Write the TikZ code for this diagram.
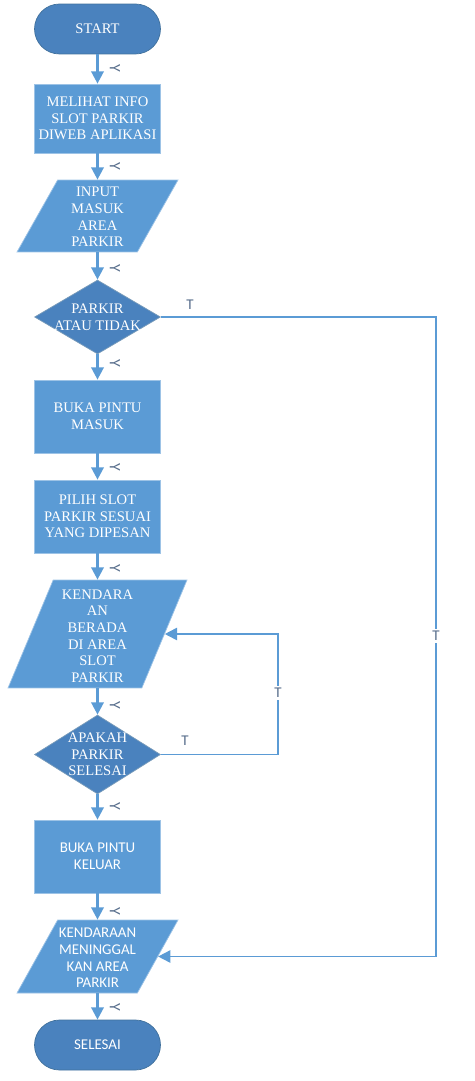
\documentclass[tikz,border=0pt]{standalone}
\usepackage{fontspec}
\setmainfont{Liberation Serif}
\newfontfamily\calibrifont{Carlito}
\usetikzlibrary{shapes.geometric,arrows.meta}

\definecolor{boxblue}{RGB}{91,155,213}
\definecolor{darkblue}{RGB}{74,130,190}
\definecolor{edgeblue}{RGB}{65,113,156}
\definecolor{lineblue}{RGB}{91,155,213}
\definecolor{labelgray}{RGB}{88,110,140}

\tikzset{
  terminal/.style={rectangle, rounded corners=0.5cm, draw=edgeblue, fill=darkblue,
    minimum width=2.52cm, minimum height=1cm, inner sep=0pt,
    text=white, font=\fontsize{8.3}{9.5}\selectfont},
  process/.style={rectangle, draw=boxblue!60!white, fill=boxblue,
    minimum width=2.52cm, minimum height=1.46cm, inner sep=0pt,
    text=white, align=center, font=\fontsize{8.3}{9.5}\selectfont},
  io/.style={trapezium, trapezium left angle=63, trapezium right angle=117,
    trapezium stretches=true, draw=boxblue!60!white, fill=boxblue, inner sep=2pt},
  decision/.style={diamond, draw=edgeblue!70!white, fill=darkblue, inner sep=0pt},
  txt/.style={text=white, align=center, inner sep=0pt, font=\fontsize{8.3}{9.5}\selectfont},
  sanstxt/.style={txt, font=\calibrifont\fontsize{8.5}{9.5}\selectfont},
  flow/.style={draw=lineblue, line width=1.4pt, -{Triangle[width=7pt,length=7pt]}},
  back/.style={flow, line width=1pt},
  ylabel/.style={text=labelgray, rotate=-90, inner sep=0pt,
    font=\calibrifont\fontsize{9}{10}\selectfont},
  tlabel/.style={text=labelgray, inner sep=1pt,
    font=\calibrifont\fontsize{8.5}{9}\selectfont},
}

\begin{document}
\begin{tikzpicture}[x=0.02cm, y=-0.02cm]
        \useasboundingbox (0,0) rectangle (474,1081);
        % Main column of steps
        \node (start) at (97.5,29) [terminal] {START};
        \node (info) at (97.5,118.5) [process, minimum height=1.38cm] {MELIHAT INFO\\SLOT PARKIR\\DIWEB APLIKASI};
        \node (input) at (97.5,216) [io, minimum width=3.22cm, minimum height=1.44cm] {};
        \node (input-t) at (97.5,217) [txt] {INPUT\\MASUK\\AREA\\PARKIR};
        \node (d1) at (97.5,317) [decision, minimum width=2.52cm, minimum height=1.48cm] {};
        \node (d1-t) at (d1) [txt] {PARKIR\\ATAU TIDAK};
        \node (bukamasuk) at (97.5,416.5) [process] {BUKA PINTU\\MASUK};
        \node (pilih) at (97.5,516.5) [process] {PILIH SLOT\\PARKIR SESUAI\\YANG DIPESAN};
        \node (kend) at (97.5,634) [io, minimum width=3.58cm, minimum height=2.16cm] {};
        \node (kend-t) at (97.5,636) [txt] {KENDARA\\AN\\BERADA\\DI AREA\\SLOT\\PARKIR};
        \node (d2) at (97.5,754.5) [decision, minimum width=2.52cm, minimum height=1.58cm] {};
        \node (d2-t) at (d2) [txt] {APAKAH\\PARKIR\\SELESAI};
        \node (bukakeluar) at (97.5,856.5) [process, font=\calibrifont\fontsize{8.5}{9.5}\selectfont] {BUKA PINTU\\KELUAR};
        \node (kmn) at (97.5,956.5) [io, minimum width=3.22cm, minimum height=1.46cm] {};
        \node (kmn-t) at (97.5,958) [sanstxt] {KENDARAAN\\MENINGGAL\\KAN AREA\\PARKIR};
        \node (selesai) at (97.5,1045) [terminal, font=\calibrifont\fontsize{8.5}{9.5}\selectfont] {SELESAI};

        % Straight connectors
        \draw[flow] (start) -- (info);
        \draw[flow] (info) -- (input);
        \draw[flow] (input) -- (d1);
        \draw[flow] (d1) -- (bukamasuk);
        \draw[flow] (bukamasuk) -- (pilih);
        \draw[flow] (pilih) -- (kend);
        \draw[flow] (kend) -- (d2);
        \draw[flow] (d2) -- (bukakeluar);
        \draw[flow] (bukakeluar) -- (kmn);
        \draw[flow] (kmn) -- (selesai);

        % Loops back for the T answers
        \coordinate (farright) at (436,636);
        \coordinate (nearright) at (278,693);
        \draw[back] (d1.east) -| (farright) |- (kmn.east);
        \draw[back] (d2.east) -| (nearright) |- (kend.east);

        % Answer labels
        \node (t1) at (190,305) [tlabel] {T};
        \node (t2) at (farright) [tlabel, fill=white] {T};
        \node (t3) at (185,741) [tlabel] {T};
        \node (t4) at (nearright) [tlabel, fill=white] {T};
        \foreach \yy in {68,166,268,363,467,568,705,806,911,1007}
        {
            \node (y\yy) at (115,\yy) [ylabel] {Y};
        }
    \end{tikzpicture}
\end{document}
